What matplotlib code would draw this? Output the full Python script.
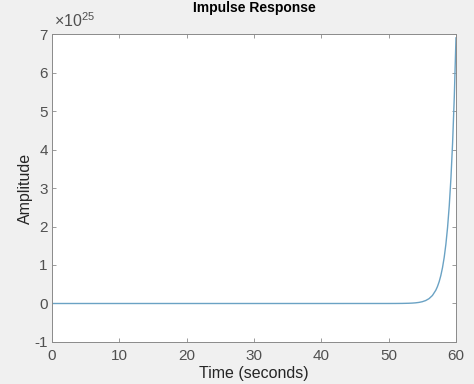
import matplotlib
matplotlib.use('Agg')
import matplotlib.pyplot as plt

plt.rcParams['font.family'] = ['Liberation Sans', 'DejaVu Sans']
plt.rcParams['mathtext.fontset'] = 'custom'
plt.rcParams['mathtext.rm'] = 'Liberation Sans'
plt.rcParams['mathtext.it'] = 'Liberation Sans'
plt.rcParams['axes.unicode_minus'] = False

# impulse response samples (amplitude in units of 1e25)
t = [0, 10, 20, 30, 40, 50, 51, 52, 53, 53.5, 54, 54.5, 55, 55.5, 56, 56.5,
     57, 57.25, 57.5, 57.75, 58, 58.25, 58.5, 58.75, 59, 59.25, 59.5, 59.75, 60]
amp = [0, 0, 0, 0, 0, 0.0003, 0.0008, 0.0023, 0.0063, 0.0104, 0.0171, 0.0282,
       0.0465, 0.0767, 0.126, 0.208, 0.344, 0.441, 0.566, 0.727, 0.934, 1.199,
       1.540, 1.977, 2.538, 3.259, 4.185, 5.374, 6.9]

xticks = [0, 10, 20, 30, 40, 50, 60]
yticks = [-1, 0, 1, 2, 3, 4, 5, 6, 7]

fig = plt.figure(figsize=(4.74, 3.84), dpi=100, facecolor='#f0f0f0')
ax = fig.add_axes([0.1097, 0.1094, 0.8523, 0.802])
ax.set_facecolor('white')

ax.plot(t, amp, color='#6aa2c4', lw=1.0)

ax.set_xlim(0, 60)
ax.set_ylim(-1, 7)
ax.set_xticks(xticks)
ax.set_yticks(yticks)
ax.tick_params(direction='in', length=3, width=0.6, colors='#8a8a8a',
               labelcolor='#505050', labelsize=11, top=True, right=True, pad=3)
ax.tick_params(axis='x', pad=5)
for s in ax.spines.values():
    s.set_color('#8a8a8a')
    s.set_linewidth(0.7)

ax.set_xlabel('Time (seconds)', fontsize=11.5, color='#262626', labelpad=2)
ax.set_ylabel('Amplitude', fontsize=11.5, color='#262626', labelpad=1)
ax.set_title('Impulse Response', fontsize=10, fontweight='bold', color='black', pad=16)
ax.text(0.006, 1.012, r'$\times10^{25}$', transform=ax.transAxes, fontsize=11.5,
        color='#505050', ha='left', va='bottom')

fig.savefig('out.png', dpi=100, facecolor=fig.get_facecolor())
